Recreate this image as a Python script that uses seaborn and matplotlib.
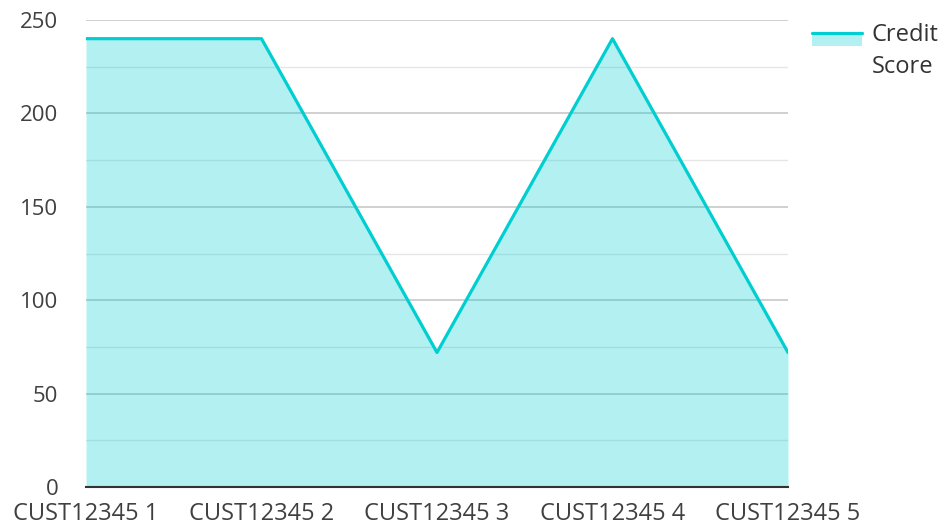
import pandas as pd
import matplotlib
matplotlib.use("Agg")
import matplotlib.pyplot as plt
from matplotlib.legend_handler import HandlerBase
from matplotlib.patches import Rectangle
from matplotlib.lines import Line2D
import seaborn as sns

# data
customers = ["CUST12345 1", "CUST12345 2", "CUST12345 3", "CUST12345 4", "CUST12345 5"]
credit_score = [240, 240, 72, 240, 72]
y_ticks = [0, 50, 100, 150, 200, 250]

df = pd.DataFrame({"pos": range(len(customers)), "Customer": customers, "Credit Score": credit_score})

line_color = "#00CED1"

sns.set_theme(style="white")
plt.rcParams["font.family"] = ["Open Sans", "DejaVu Sans"]

fig = plt.figure(figsize=(9.44, 5.26), dpi=100)
ax = fig.add_axes([86 / 944, 39 / 526, (788 - 86) / 944, (487 - 20) / 526])

# grid: major every 50, minor every 25
for v in range(25, 251, 25):
    if v % 50 == 0:
        ax.axhline(v, color="#c8c8c8", lw=1.2, zorder=1)
    else:
        ax.axhline(v, color="#e6e6e6", lw=1.0, zorder=1)

ax.fill_between(df["pos"], df["Credit Score"], 0, color=line_color, alpha=0.3, lw=0, zorder=2)
sns.lineplot(data=df, x="pos", y="Credit Score", color=line_color, lw=2.3, ax=ax, zorder=3)

ax.set_xlim(0, len(customers) - 1)
ax.set_ylim(0, 250)
ax.set_xticks(df["pos"])
ax.set_xticklabels(customers)
ax.set_yticks(y_ticks)
ax.set_xlabel("")
ax.set_ylabel("")
ax.tick_params(axis="both", length=0, labelsize=16, colors="#404040")
ax.tick_params(axis="x", labelsize=17, pad=11)
ax.tick_params(axis="y", pad=20)
for s in ["left", "right", "top"]:
    ax.spines[s].set_visible(False)
ax.spines["bottom"].set_color("#333333")
ax.spines["bottom"].set_linewidth(1.5)
ax.spines["bottom"].set_zorder(4)


class AreaHandler(HandlerBase):
    def create_artists(self, legend, orig, xd, yd, w, h, fontsize, trans):
        top = yd + h * 0.5 + 13.5
        rect = Rectangle((xd, top - 9), w, 9, facecolor=line_color,
                         alpha=0.3, lw=0, transform=trans)
        ln = Line2D([xd, xd + w], [top, top], color=line_color, lw=2.3, transform=trans)
        return [rect, ln]


handle = Rectangle((0, 0), 1, 1)
fig.legend([handle], ["Credit\nScore"], handler_map={Rectangle: AreaHandler()},
           loc="upper left", bbox_to_anchor=(812 / 944, 1 - 23 / 526), frameon=False,
           fontsize=17, labelcolor="#333333", handlelength=2.1, handletextpad=0.42,
           borderaxespad=0, borderpad=0)
for t in fig.legends[0].get_texts():
    t.set_linespacing(1.45)

fig.savefig("out.png", dpi=100)
